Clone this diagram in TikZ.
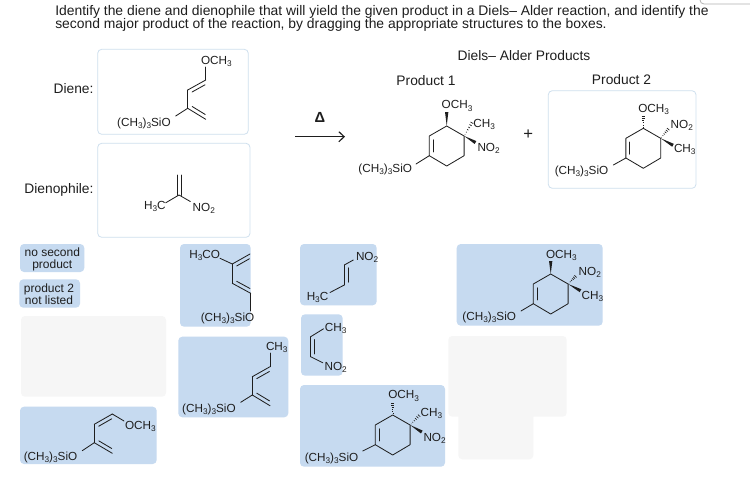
\documentclass[tikz,border=0pt]{standalone}
\usepackage{fontspec}
\setmainfont{Liberation Sans}
\usetikzlibrary{calc,arrows.meta}
\definecolor{ink}{HTML}{1E1E1E}
\definecolor{tile}{HTML}{C6DAF0}
\definecolor{edgeb}{HTML}{CFE0EE}
\definecolor{ghost}{HTML}{F6F6F6}
\newcommand\subs[1]{\raisebox{-0.35ex}{\fontsize{6.2}{6.2}\selectfont #1}}
\newcommand\sil{(CH\subs{3})\subs{3}SiO}
\newcommand\och{OCH\subs{3}}
\newcommand\chh{CH\subs{3}}
\newcommand\hhc{H\subs{3}C}
\newcommand\nit{NO\subs{2}}
\tikzset{
  x=0.75pt,y=-0.75pt,
  bond/.style={draw=ink,line width=0.62pt,line cap=round},
  atom/.style={inner sep=0pt,outer sep=0pt,yshift=-1.1pt,font=\fontsize{8.8}{9}\selectfont,text=ink},
  caption/.style={inner sep=0pt,outer sep=0pt,yshift=-0.8pt,font=\fontsize{10.35}{11}\selectfont,text=ink},
  small/.style={inner sep=0pt,outer sep=0pt,yshift=-0.8pt,font=\fontsize{9}{9.4}\selectfont,text=ink,align=center},
  headline/.style={anchor=west,inner sep=0pt,yshift=-1.1pt,font=\fontsize{10.42}{11}\selectfont,text=ink},
  tilebox/.style={fill=tile,rounded corners=3pt,draw=none},
  slot/.style={fill=white,draw=edgeb,line width=0.6pt,rounded corners=3pt},
  ghostbox/.style={fill=ghost,rounded corners=3pt,draw=none}
}
% double bond: a, b, side angle (90 = visually left of a->b)
\newcommand\dbl[3]{\draw[bond] #1 -- #2;
  \draw[bond] ($#1!.14!#2!2.9pt!#3:#2$) -- ($#1!.86!#2!2.9pt!#3:#2$);}
% solid wedge, tip at a
\newcommand\wdg[2]{\fill[ink] #1 -- ($#2!1.25pt!90:#1$) -- ($#2!1.25pt!-90:#1$) -- cycle;}
% hashed wedge, tip at a
\newcommand\hsh[2]{\foreach \t in {.1,.25,.4,.55,.7,.85,1}{
   \draw[ink,line width=0.5pt] ($#1!\t!#2!{1.4pt*\t}!90:#2$) -- ($#1!\t!#2!{1.4pt*\t}!-90:#2$);}}
% six-membered ring from its top atom
\newcommand\ring[3]{
  \coordinate (#3t) at (#1,#2);
  \coordinate (#3ul) at (#1-17.4,#2+10);
  \coordinate (#3ll) at (#1-17.4,#2+29.7);
  \coordinate (#3b) at (#1,#2+40);
  \coordinate (#3lr) at (#1+17.4,#2+29.7);
  \coordinate (#3ur) at (#1+17.4,#2+10);
  \draw[bond,line join=round] (#3t)--(#3ul)--(#3ll)--(#3b)--(#3lr)--(#3ur)--cycle;
  \draw[bond] ($(#3ul)+(4,3.8)$) -- ($(#3ll)+(4,-3.8)$);
}
\begin{document}
\begin{tikzpicture}
\useasboundingbox (0,0) rectangle (750,482);
\clip (0,0) rectangle (750,482);
\fill[white] (0,0) rectangle (750,482);
% corner fragment
\draw[draw=black!30,line width=0.6pt,rounded corners=3pt] (700,-6) rectangle (770,4);
% heading
\node[headline] (h1) at (55,10) {Identify the diene and dienophile that will yield the given product in a Diels– Alder reaction, and identify the};
\node[headline] (h2) at (55,23) {second major product of the reaction, by dragging the appropriate structures to the boxes.};
\node[caption] (dap) at (524,54.5) {Diels– Alder Products};
\node[caption] (p1) at (426,79.5) {Product 1};
\node[caption] (p2) at (621.5,78.5) {Product 2};
\node[caption,anchor=east] (lb1) at (93.5,87.5) {Diene:};
\node[caption,anchor=east] (lb2) at (93.5,188.5) {Dienophile:};
% slots
\path[slot] (97.7,49.3) rectangle (248.3,134.3);
\path[slot] (97.7,143.3) rectangle (250,237.3);
\path[slot] (548.3,90.7) rectangle (696,188.3);
% ghosts
\path[ghostbox] (21,316) rectangle (166,396.7);
\path[ghostbox] (448.3,336) rectangle (566.7,416.7);
\path[ghostbox] (458.3,410) rectangle (533.3,459.3);
% tiles
\path[tilebox] (20,244) rectangle (84.3,272);
\path[tilebox] (19.3,279.3) rectangle (80,307.7);
\path[tilebox] (20,406.7) rectangle (156.7,464);
\path[tilebox] (180,244) rectangle (250.7,326.7);
\path[tilebox] (178.3,336.7) rectangle (288.3,417.3);
\path[tilebox] (300,244) rectangle (376.7,305.3);
\path[tilebox] (301,314.3) rectangle (342.7,375.7);
\path[tilebox] (300,385) rectangle (445,466.7);
\path[tilebox] (456.7,244) rectangle (602.7,325.7);
\node[small] (t1) at (52.3,258) {no second\\[-0.2pt]product};
\node[small] (t2) at (49,293.3) {product 2\\[-0.2pt]not listed};
% reaction arrow
\node[inner sep=0pt,font=\fontsize{11}{11}\selectfont\bfseries,text=ink] (dl) at (320,117) {Δ};
\coordinate (ar1) at (295,136.7);
\coordinate (ar2) at (345,136.7);
\draw[ink,line width=0.85pt,-{Straight Barb[length=4pt,width=7.5pt]}] (ar1) -- (ar2);
\node[inner sep=0pt,font=\fontsize{12.5}{13}\selectfont,text=ink] (plus) at (528.3,134.5) {+};
% Diene slot
\node[atom,anchor=west] (a1) at (201,60.2) {\och};
\node[atom,anchor=east] (a2) at (170.7,121.7) {\sil};
\coordinate (a3) at (205.7,80); \coordinate (a4) at (187.7,90);
\coordinate (a5) at (187.7,108.3); \coordinate (a6) at (205.7,119.3);
\coordinate (a7) at (175.7,116); \coordinate (a8) at (205.7,67);
\draw[bond] (a8) -- (a3); \dbl{(a4)}{(a3)}{-90}
\draw[bond] (a4) -- (a5); \dbl{(a5)}{(a6)}{90} \draw[bond] (a7) -- (a5);
% Dienophile slot
\node[atom,anchor=east] (b1) at (165.7,205) {\hhc};
\node[atom,anchor=west] (b2) at (192.7,207) {\nit};
\coordinate (b3) at (179,195); \coordinate (b4) at (177,175); \coordinate (b5) at (181,175);
\coordinate (b6) at (177,195.5); \coordinate (b7) at (181,195.5);
\draw[bond] (b6)--(b4); \draw[bond] (b7)--(b5);
\coordinate (b8) at (165.7,202.8); \coordinate (b9) at (190.3,201.5);
\draw[bond] (b8)--(b3)--(b9);
% Product 1
\ring{446.7}{126}{p}
\node[atom,anchor=west] (pa) at (441.7,104.5) {\och};
\node[atom,anchor=west] (pb) at (473.3,122.7) {\chh};
\node[atom,anchor=west] (pc) at (477.5,146.7) {\nit};
\node[atom,anchor=east] (pd) at (412,167.5) {\sil};
\coordinate (pe) at (446.7,112); \coordinate (pf) at (473.3,120.5);
\coordinate (pg) at (475.5,142.5); \coordinate (ph) at (416,164);
\wdg{(pt)}{(pe)} \hsh{(pur)}{(pf)} \wdg{(pur)}{(pg)} \draw[bond] (ph)--(pll);
% Product 2
\ring{643.3}{128.3}{q}
\node[atom,anchor=west] (qa) at (638.3,108) {\och};
\node[atom,anchor=west] (qb) at (670.7,124.3) {\nit};
\node[atom,anchor=west] (qc) at (674,148.3) {\chh};
\node[atom,anchor=east] (qd) at (608.3,170) {\sil};
\coordinate (qe) at (643.3,114.5); \coordinate (qf) at (669.5,127.5);
\coordinate (qg) at (673,145.3); \coordinate (qh) at (613.3,165);
\hsh{(qt)}{(qe)} \hsh{(qur)}{(qf)} \wdg{(qur)}{(qg)} \draw[bond] (qh)--(qll);
% Tile A
\node[atom,anchor=west] (c1) at (189.3,254.3) {H\subs{3}CO};
\node[atom,anchor=east] (c2) at (254.3,316.7) {\sil};
\coordinate (c3) at (220,258.3); \coordinate (c4) at (232.3,264); \coordinate (c5) at (250,254);
\coordinate (c6) at (232.3,283.3); \coordinate (c7) at (250.7,293.3); \coordinate (c8) at (250.7,311);
\draw[bond] (c3)--(c4); \dbl{(c4)}{(c5)}{-90} \draw[bond] (c4)--(c6);
\dbl{(c6)}{(c7)}{90} \draw[bond] (c7)--(c8);
% Tile B
\node[atom,anchor=west] (e1) at (266,346.2) {\chh};
\node[atom,anchor=east] (e2) at (235.7,407.7) {\sil};
\coordinate (e3) at (270,353); \coordinate (e4) at (270,366.7); \coordinate (e5) at (252.3,376.7);
\coordinate (e6) at (252.3,395); \coordinate (e7) at (270,405.7); \coordinate (e8) at (240.7,402.3);
\draw[bond] (e3)--(e4); \dbl{(e5)}{(e4)}{-90} \draw[bond] (e5)--(e6);
\dbl{(e6)}{(e7)}{90} \draw[bond] (e8)--(e6);
% Tile C
\node[atom,anchor=west] (f1) at (356,256) {\nit};
\node[atom,anchor=east] (f2) at (328.3,295.7) {\hhc};
\coordinate (f3) at (353.3,260); \coordinate (f4) at (344.3,265); \coordinate (f5) at (344.3,285); \coordinate (f6) at (330,292.5);
\draw[bond] (f3)--(f4); \dbl{(f4)}{(f5)}{90} \draw[bond] (f5)--(f6);
% Tile D
\node[atom,anchor=west] (g1) at (324.8,326.7) {\chh};
\node[atom,anchor=west] (g2) at (324.6,366) {\nit};
\coordinate (g3) at (323.5,328.8); \coordinate (g4) at (310.7,336.7); \coordinate (g5) at (310.7,356.7); \coordinate (g6) at (322.8,362.8);
\draw[bond] (g3)--(g4); \dbl{(g4)}{(g5)}{90} \draw[bond] (g5)--(g6);
% Tile E
\ring{392.7}{415}{r}
\node[atom,anchor=west] (ra) at (388.3,394.5) {\och};
\node[atom,anchor=west] (rb) at (420.7,411.7) {\chh};
\node[atom,anchor=west] (rc) at (423.5,436.7) {\nit};
\node[atom,anchor=east] (rd) at (358.3,456.7) {\sil};
\coordinate (re) at (392.7,401.5); \coordinate (rf) at (420.7,414);
\coordinate (rg) at (421.8,432) ; \coordinate (rh) at (362.7,451);
\hsh{(rt)}{(re)} \hsh{(rur)}{(rf)} \wdg{(rur)}{(rg)} \draw[bond] (rh)--(rll);
% Tile F
\ring{550.7}{274}{s}
\node[atom,anchor=west] (sa) at (546,254) {\och};
\node[atom,anchor=west] (sb) at (578.7,270.7) {\nit};
\node[atom,anchor=west] (sc) at (581.7,295) {\chh};
\node[atom,anchor=east] (sd) at (516,315.7) {\sil};
\coordinate (se) at (550.7,261); \coordinate (sf) at (576.7,275);
\coordinate (sg) at (580.5,290.7); \coordinate (sh) at (521,311);
\wdg{(st)}{(se)} \hsh{(sur)}{(sf)} \wdg{(sur)}{(sg)} \draw[bond] (sh)--(sll);
% Tile G
\node[atom,anchor=west] (u1) at (125,425) {\och};
\node[atom,anchor=east] (u2) at (77.3,456) {\sil};
\coordinate (u3) at (124,421); \coordinate (u4) at (112.3,414); \coordinate (u5) at (94.3,424.3);
\coordinate (u6) at (94.3,442.7); \coordinate (u7) at (112.3,453.3); \coordinate (u8) at (82.3,450.7);
\draw[bond] (u3)--(u4); \dbl{(u5)}{(u4)}{-90} \draw[bond] (u5)--(u6);
\dbl{(u6)}{(u7)}{90} \draw[bond] (u8)--(u6);
\end{tikzpicture}
\end{document}
